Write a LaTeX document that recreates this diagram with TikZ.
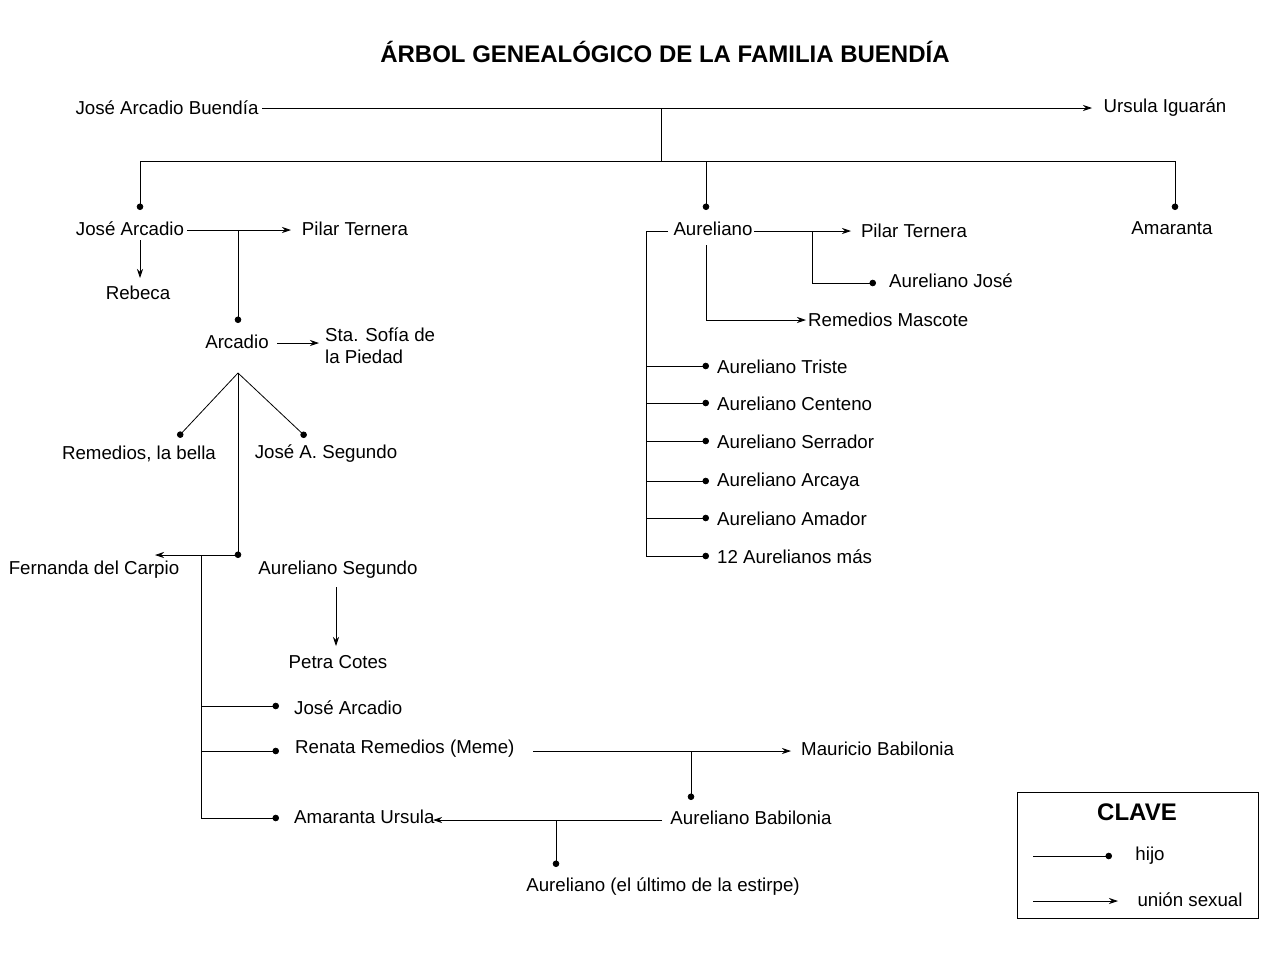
\documentclass[tikz,border=0pt]{standalone}
\usepackage{fontspec}
\setmainfont{Liberation Sans}
\usetikzlibrary{arrows.meta}
\begin{document}
\begin{tikzpicture}[x=1pt,y=-1pt,
  t/.style={inner sep=0pt,font=\fontsize{18.7}{22}\selectfont},
  tl/.style={t,anchor=west},
  ln/.style={line width=0.8pt},
  ar/.style={ln,-{Stealth[length=9pt,width=6pt]}},
  dt/.style={ln,-{Circle[length=6.5pt]}}]
\useasboundingbox (0,0) rectangle (1278,959);
\node[inner sep=0pt,font=\fontsize{24}{28}\selectfont\bfseries] (title) at (665,52) {ÁRBOL GENEALÓGICO DE LA FAMILIA BUENDÍA};
\node[t] (jab) at (167,108) {José Arcadio Buendía};
\node[t] (ui) at (1165,108) {Ursula Iguarán};
\draw[ar] (262,108) -- (1092,108);
\draw[ln] (661,108) -- (661,161);
\draw[ln] (140,161) -- (1175,161);
\draw[dt] (140,161) -- (140,210);
\draw[dt] (706,161) -- (706,210);
\draw[dt] (1175,161) -- (1175,210);
% Jose Arcadio branch
\node[t] (ja) at (130,229) {José Arcadio};
\node[t] (pt1) at (355,229) {Pilar Ternera};
\draw[ar] (187,230) -- (291,230);
\node[t] (reb) at (138,293) {Rebeca};
\draw[ar] (140,240) -- (140,278);
\draw[dt] (238,230) -- (238,323);
\node[t] (arc) at (237,342) {Arcadio};
\draw[ar] (277,343) -- (319,343);
\node[tl,align=left] (sofia) at (325,346) {Sta. Sofía de\\la Piedad};
\draw[dt] (238,373) -- (178,437);
\draw[dt] (238,373) -- (306,437);
\draw[dt] (238,373) -- (238,558);
\node[t] (rem) at (139,454) {Remedios, la bella};
\node[t] (jas) at (326,454) {José A. Segundo};
\draw[ar] (238,555) -- (155,555);
\node[t] (fer) at (94,570) {Fernanda del Carpio};
\node[t] (as) at (338,570) {Aureliano Segundo};
\draw[ar] (336,587) -- (336,646);
\node[t] (pc) at (338,662) {Petra Cotes};
\draw[ln] (201,555) -- (201,818);
\draw[dt] (201,706) -- (279,706);
\draw[dt] (201,751) -- (279,751);
\draw[dt] (201,818) -- (279,818);
\node[tl] (ja2) at (294,708) {José Arcadio};
\node[tl] (meme) at (295,749) {Renata Remedios (Meme)};
\draw[ar] (533,751) -- (791,751);
\node[tl] (mb) at (801,749) {Mauricio Babilonia};
\draw[dt] (691,751) -- (691,800);
\node[t] (ab) at (751,818) {Aureliano Babilonia};
\draw[ar] (662,820) -- (433,820);
\node[tl] (au) at (294,817) {Amaranta Ursula};
\draw[dt] (556,820) -- (556,867);
\node[t] (ult) at (663,887) {Aureliano (el último de la estirpe)};
% Aureliano branch
\node[t] (aur) at (713,229) {Aureliano};
\draw[ln] (668,231) -- (646,231) -- (646,556);
\draw[ar] (754,231) -- (851,231);
\node[t] (pt2) at (914,231) {Pilar Ternera};
\draw[dt] (812,231) -- (812,283) -- (876,283);
\node[tl] (aj) at (889,281) {Aureliano José};
\draw[ar] (706,245) -- (706,320) -- (806,320);
\node[tl] (rm) at (808,320) {Remedios Mascote};
\foreach \y/\n in {366/Aureliano Triste,403/Aureliano Centeno,441/Aureliano Serrador,481/Aureliano Arcaya,518/Aureliano Amador,556/12 Aurelianos más}{
  \draw[dt] (646,\y) -- (709,\y);
  \node[tl] at (717,\y+1) {\n};
}
\node[t] (ama) at (1172,228) {Amaranta};
% key
\draw[ln] (1017,792) rectangle (1258,918);
\node[inner sep=0pt,font=\fontsize{24}{28}\selectfont\bfseries] (clave) at (1137,812) {CLAVE};
\draw[dt] (1033,856) -- (1112,856);
\node[t] (hijo) at (1150,856) {hijo};
\draw[ar] (1033,901) -- (1118,901);
\node[t] (us) at (1190,900) {unión sexual};
\end{tikzpicture}
\end{document}
